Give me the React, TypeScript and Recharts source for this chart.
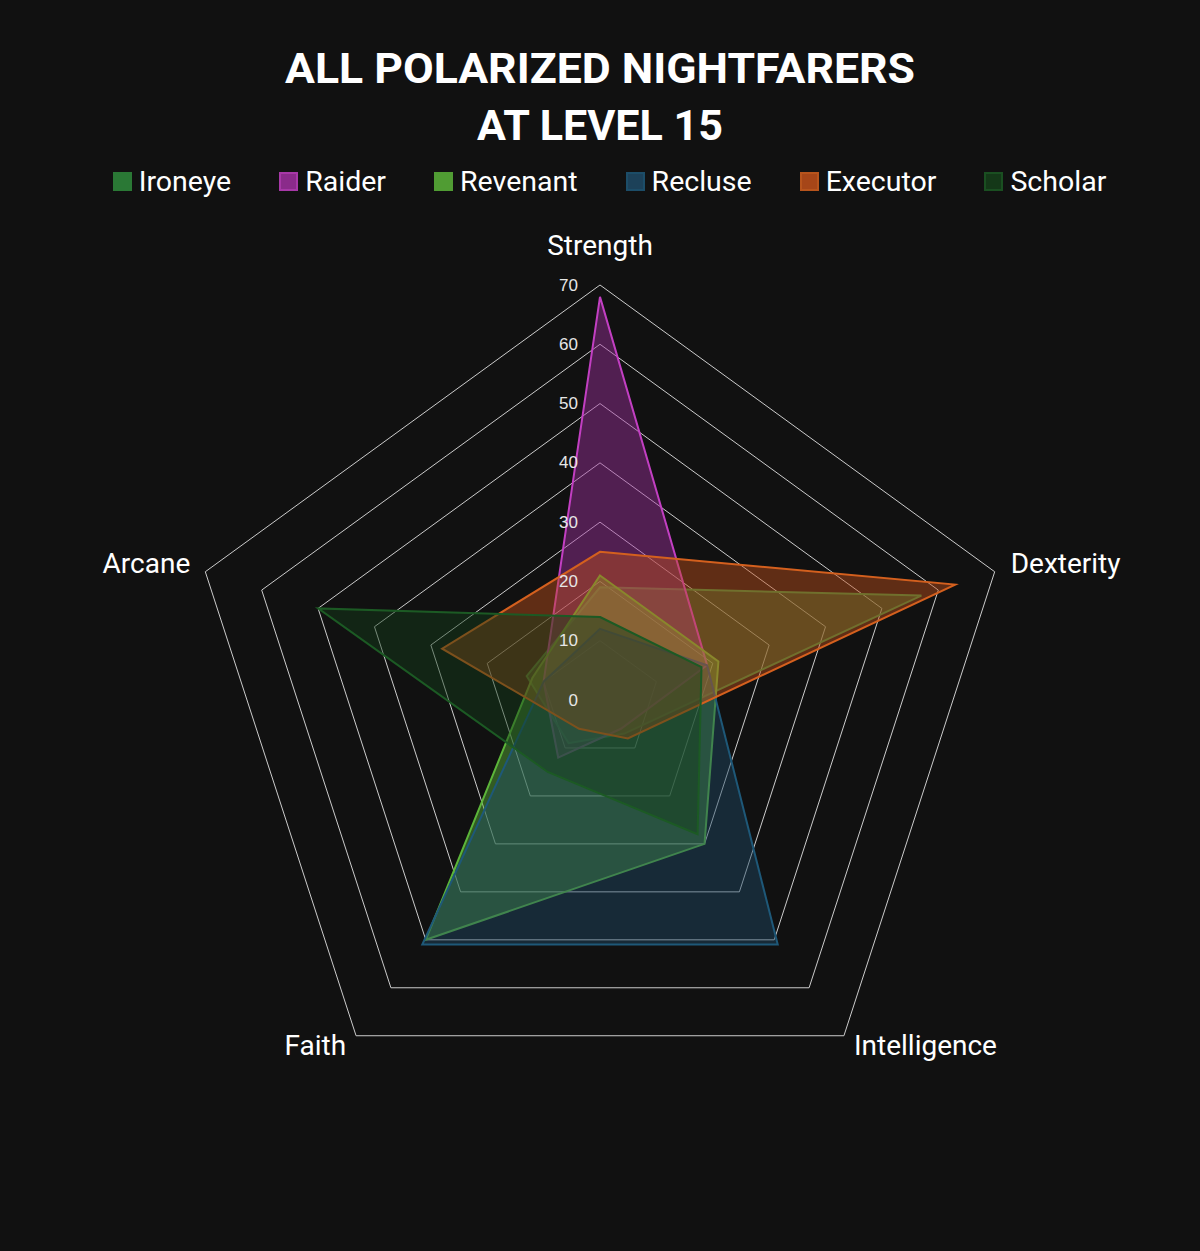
import React from 'react'
import {
  RadarChart, Radar, PolarGrid, PolarAngleAxis, PolarRadiusAxis, Legend,
} from 'recharts'

const stats = ['Strength', 'Dexterity', 'Intelligence', 'Faith', 'Arcane']

const ironeye = [19, 57, 7, 9, 13]
const raider = [68, 19, 6, 12, 10]
const revenant = [21, 21, 30, 50, 12]
const recluse = [12, 19, 51, 51, 10]
const executor = [25, 63, 8, 6, 28]
const scholar = [14, 18, 28, 15, 50]

const radiusTicks = [0, 10, 20, 30, 40, 50, 60, 70]

const series = [
  { key: 'Ironeye', values: ironeye, stroke: '#2f8a3c', fill: '#2f8a3c' },
  { key: 'Raider', values: raider, stroke: '#c23fc2', fill: '#a030a0' },
  { key: 'Revenant', values: revenant, stroke: '#5cb53a', fill: '#5cb53a' },
  { key: 'Recluse', values: recluse, stroke: '#1e5878', fill: '#1e4a66' },
  { key: 'Executor', values: executor, stroke: '#d4601e', fill: '#c0501a' },
  { key: 'Scholar', values: scholar, stroke: '#1c5a24', fill: '#153f1a' },
]

const data = stats.map((stat, i) => {
  const row: Record<string, string | number> = { stat }
  series.forEach(s => { row[s.key] = s.values[i] })
  return row
})

const CX = 600
const CY = 700
const R = 415
const FONT = 'Roboto, "Noto Sans", sans-serif'

function AngleTick(props: any) {
  const { payload } = props
  const a = (payload.coordinate * Math.PI) / 180
  const cos = Math.cos(a)
  const sin = Math.sin(a)
  const vx = CX + R * cos
  const vy = CY - R * sin
  let dx = 0
  let dy = 0
  let anchor: 'start' | 'middle' | 'end' = 'middle'
  if (sin > 0.9) {
    dy = -40
  } else {
    anchor = cos > 0 ? 'start' : 'end'
    dx = cos > 0 ? (sin > 0 ? 16 : 10) : (sin > 0 ? -15 : -10)
    dy = sin > 0 ? -8 : 10
  }
  return (
    <text x={vx + dx} y={vy + dy} textAnchor={anchor} dominantBaseline="central"
      fill="#ffffff" fontSize={28} fontFamily={FONT}>
      {payload.value}
    </text>
  )
}

function RadiusTick(props: any) {
  const { x, y, payload } = props
  return (
    <text x={x - 22} y={y} textAnchor="end" dominantBaseline="central"
      fill="#e6e6e6" fontSize={17} fontFamily='"Liberation Sans", Arial, sans-serif'>
      {payload.value}
    </text>
  )
}

function LegendRow() {
  return (
    <div style={{ display: 'flex', justifyContent: 'center', gap: 48, paddingLeft: 19, fontFamily: FONT }}>
      {series.map(s => (
        <div key={s.key} style={{ display: 'flex', alignItems: 'center', gap: 7 }}>
          <span style={{
            width: 15, height: 15, border: `2px solid ${s.stroke}`,
            background: s.fill, opacity: 0.85, display: 'inline-block',
          }} />
          <span style={{ color: '#fff', fontSize: 28.5 }}>{s.key}</span>
        </div>
      ))}
    </div>
  )
}

export default function App() {
  return (
    <div style={{ position: 'absolute', top: 0, left: 0, width: 1200, height: 1251, background: '#111111' }}>
      <svg width={1200} height={150} style={{ position: 'absolute', top: 0, left: 0 }}>
        <text x={600} y={68} textAnchor="middle" dominantBaseline="central" fill="#fff"
          fontSize={42} fontWeight={700} fontFamily={FONT} textLength={630} lengthAdjust="spacingAndGlyphs">
          ALL POLARIZED NIGHTFARERS
        </text>
        <text x={600} y={125} textAnchor="middle" dominantBaseline="central" fill="#fff"
          fontSize={42} fontWeight={700} fontFamily={FONT} textLength={246} lengthAdjust="spacingAndGlyphs">
          AT LEVEL 15
        </text>
      </svg>
      <RadarChart width={1200} height={1251} data={data} cx={CX} cy={CY} outerRadius={R}
        startAngle={90} endAngle={-270} style={{ position: 'absolute', top: 0, left: 0 }}>
        <PolarGrid radialLines={false} stroke="#cccccc" strokeWidth={1} />
        <PolarAngleAxis dataKey="stat" tick={<AngleTick />} tickLine={false} axisLine={false} />
        <PolarRadiusAxis angle={90} domain={[0, 70]} ticks={radiusTicks as any} tickCount={8}
          axisLine={false} tickLine={false} tick={<RadiusTick />} />
        {series.map(s => (
          <Radar key={s.key} name={s.key} dataKey={s.key} stroke={s.stroke} strokeWidth={2}
            fill={s.fill} fillOpacity={0.45} isAnimationActive={false} />
        ))}
        <Legend verticalAlign="top" content={() => <LegendRow />}
          wrapperStyle={{ top: 165, left: 0, width: 1200 }} />
      </RadarChart>
    </div>
  )
}
